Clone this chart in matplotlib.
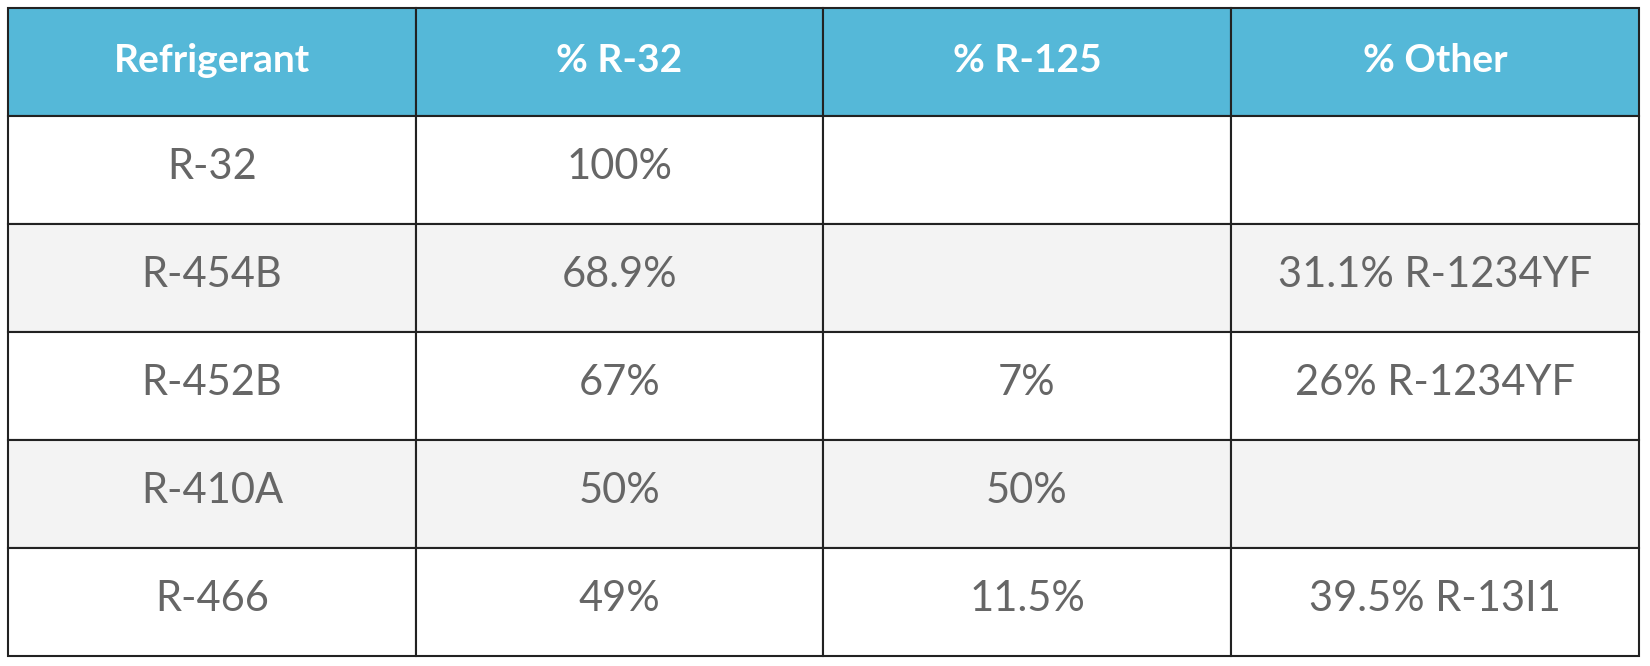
import matplotlib.pyplot as plt
from matplotlib.patches import Rectangle

headers = ["Refrigerant", "% R-32", "% R-125", "% Other"]
refrigerants = ["R-32", "R-454B", "R-452B", "R-410A", "R-466"]
pct_r32 = ["100%", "68.9%", "67%", "50%", "49%"]
pct_r125 = ["", "", "7%", "50%", "11.5%"]
pct_other = ["", "31.1% R-1234YF", "26% R-1234YF", "", "39.5% R-13I1"]

col_edges = [8, 416, 823, 1231, 1639]
row_top = 8
head_h = 108
row_h = 108

fig = plt.figure(figsize=(16.5, 6.66), dpi=100)
ax = fig.add_axes([0, 0, 1, 1])
ax.set_xlim(0, 1650)
ax.set_ylim(666, 0)
ax.axis("off")

# header
for c, h in enumerate(headers):
    x0, x1 = col_edges[c], col_edges[c + 1]
    ax.add_patch(Rectangle((x0, row_top), x1 - x0, head_h, facecolor="#55B8D8",
                           edgecolor="#222222", lw=1.5))
    ax.text((x0 + x1) / 2, row_top + head_h / 2 - 2, h, ha="center", va="center",
            fontsize=28, fontweight="bold", color="white", family="Lato")

rows = list(zip(refrigerants, pct_r32, pct_r125, pct_other))
for r, vals in enumerate(rows):
    y0 = row_top + head_h + r * row_h
    fc = "#F3F3F3" if r % 2 == 1 else "white"
    for c, v in enumerate(vals):
        x0, x1 = col_edges[c], col_edges[c + 1]
        ax.add_patch(Rectangle((x0, y0), x1 - x0, row_h, facecolor=fc,
                               edgecolor="#222222", lw=1.5))
        ax.text((x0 + x1) / 2, y0 + row_h / 2 - 3, v, ha="center", va="center",
                fontsize=30, color="#666666", family="Lato")

fig.savefig("out.png", dpi=100)
